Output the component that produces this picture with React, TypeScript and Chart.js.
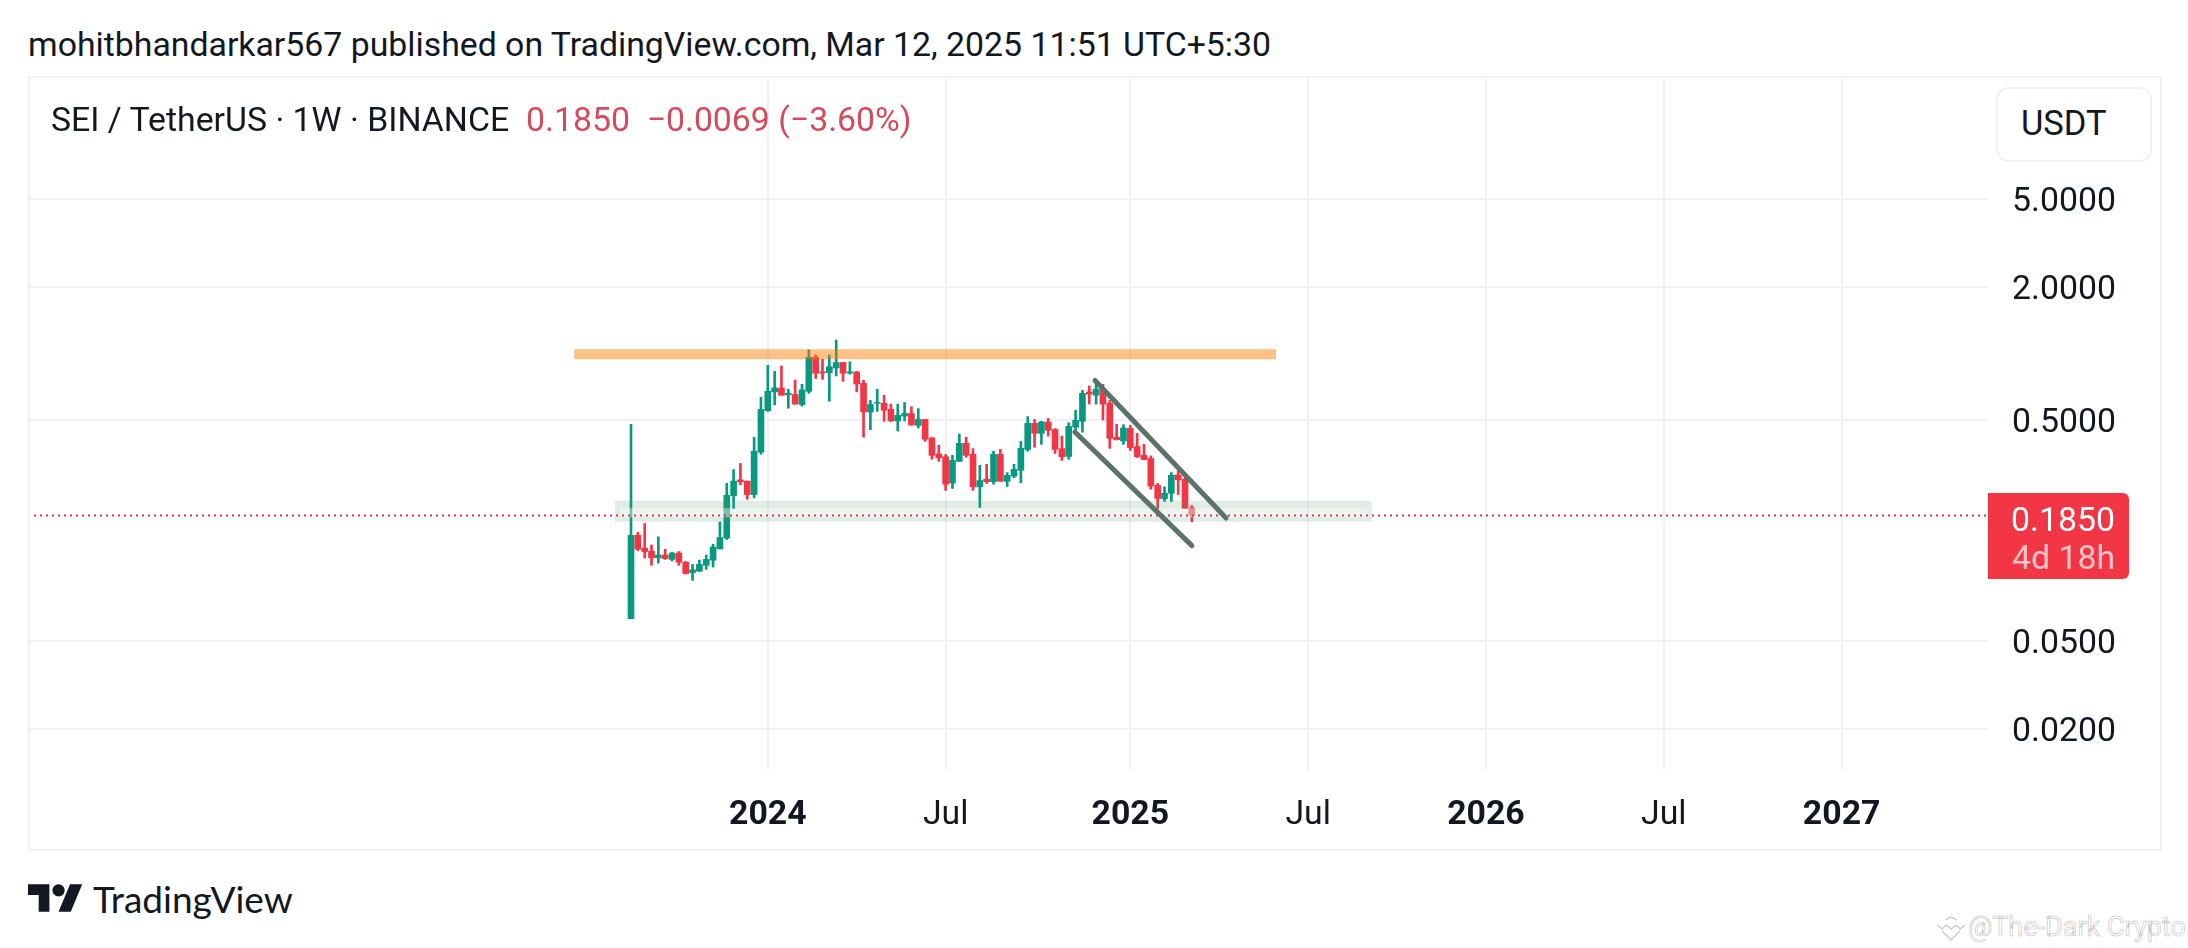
import { useEffect, useRef } from "react";
import { Chart, registerables } from "chart.js";

Chart.register(...registerables);

// weekly candles, index 0 = week of 14 Aug 2023
const opens = [.0631,.1503,.1315,.1275,.119,.1225,.117,.125,.1135,.102,.1035,.110,.116,.1305,.146,.227,.268,.2645,.230,.358,.551,.670,.697,.650,.652,.587,.674,.961,.826,.819,.860,.910,.816,.824,.733,.544,.595,.595,.559,.495,.521,.535,.473,.503,.415,.351,.341,.259,.325,.392,.350,.249,.270,.263,.350,.264,.279,.296,.368,.483,.435,.490,.453,.371,.342,.464,.493,.670,.647,.689,.595,.418,.402,.458,.379,.346,.335,.253,.220,.233,.282,.270,.200];
const closes = [.1503,.1303,.127,.119,.1225,.118,.125,.1135,.101,.105,.111,.117,.133,.147,.228,.2645,.2625,.230,.361,.559,.674,.699,.647,.660,.590,.684,.961,.814,.816,.871,.910,.814,.826,.727,.544,.587,.600,.553,.495,.525,.535,.475,.503,.409,.346,.337,.256,.328,.392,.346,.249,.266,.263,.350,.264,.281,.299,.372,.483,.435,.490,.449,.368,.341,.468,.498,.660,.655,.689,.590,.413,.407,.460,.375,.341,.331,.251,.221,.233,.281,.268,.199,.185];
const highs = [.478,.155,.170,.136,.148,.130,.126,.127,.1145,.111,.116,.1225,.137,.173,.2585,.2985,.318,.2645,.4175,.634,.884,.830,.878,.689,.758,.725,1.038,.985,.941,.985,1.15,.910,.917,.830,.756,.613,.689,.647,.590,.590,.600,.574,.563,.503,.416,.384,.349,.346,.432,.418,.371,.312,.315,.361,.368,.289,.315,.400,.518,.503,.493,.509,.457,.423,.486,.553,.681,.713,.752,.725,.613,.478,.476,.473,.435,.388,.344,.258,.249,.289,.294,.274,.205];
const lows = [.0631,.128,.1187,.110,.1125,.117,.115,.110,.1005,.094,.103,.1055,.108,.1305,.144,.1985,.2545,.219,.222,.350,.547,.585,.647,.565,.590,.578,.660,.770,.764,.608,.791,.748,.805,.670,.418,.452,.547,.493,.493,.446,.495,.473,.460,.400,.332,.325,.240,.245,.325,.339,.240,.201,.258,.256,.264,.250,.274,.260,.361,.376,.388,.423,.353,.328,.332,.435,.440,.590,.590,.500,.372,.406,.388,.364,.338,.330,.243,.184,.214,.214,.230,.198,.173];

const priceTicks = [5, 2, 0.5, 0.05, 0.02];
const timeTicks = [20, 46, 73, 99, 125, 151, 177];
const timeLabels = ["2024", "Jul", "2025", "Jul", "2026", "Jul", "2027"];
const boldLabels = ["2024", "2025", "2026", "2027"];

const lastPrice = 0.185;
const resistance = { weeks: [-8.3, 94.3], price: [0.991, 0.991] };
const supportOuter = { weeks: [-2.34, 108.3], price: [0.193, 0.193] };
const supportInner = { weeks: [-1.6, 107.6], price: [0.19, 0.19] };
const channelUpper = { weeks: [67.84, 87], price: [0.755, 0.18] };
const channelLower = { weeks: [64.9, 82], price: [0.441, 0.135] };

const WEEK_MIN = -88.16;
const WEEK_MAX = 198.25;
const GREEN = "#089981";
const RED = "#F23645";
const GRID = "#f0f1f4";
const FONT = "Roboto";

function toPoints(line: { weeks: number[]; price: number[] }) {
  return line.weeks.map((x, i) => ({ x, y: line.price[i] }));
}

function overlay(data: { x: number; y: number }[], color: string, width: number, order: number, extra = {}) {
  return {
    type: "line" as const,
    data,
    borderColor: color,
    borderWidth: width,
    pointRadius: 0,
    order,
    ...extra,
  };
}

function SeiChart() {
  const chartRef = useRef<HTMLCanvasElement>(null);

  useEffect(() => {
    if (!chartRef.current) return;
    const up = closes.map((c, i) => c >= opens[i]);
    const candleColors = up.map((u) => (u ? GREEN : RED));

    const chart = new Chart(chartRef.current, {
      type: "bar",
      data: {
        datasets: [
          overlay(toPoints(channelUpper), "#5a736b", 5, 0, { borderCapStyle: "round" }),
          overlay(toPoints(channelLower), "#5a736b", 5, 0, { borderCapStyle: "round" }),
          overlay(
            [{ x: WEEK_MIN, y: lastPrice }, { x: WEEK_MAX, y: lastPrice }],
            "#d5384c",
            2,
            1,
            { borderDash: [2, 4] }
          ),
          overlay(toPoints(resistance), "rgba(247,124,0,0.47)", 10, 2),
          overlay(toPoints(supportOuter), "rgba(85,150,105,0.18)", 21, 3),
          overlay(toPoints(supportInner), "rgba(255,255,255,0.4)", 9, 2.5),
          {
            type: "bar" as const,
            data: opens.map((o, i) => ({ x: i, y: [o, closes[i]] })),
            backgroundColor: candleColors,
            barThickness: 6,
            grouped: false,
            order: 4,
          },
          {
            type: "bar" as const,
            data: lows.map((l, i) => ({ x: i, y: [l, highs[i]] })),
            backgroundColor: candleColors,
            barThickness: 2,
            grouped: false,
            order: 5,
          },
        ],
      } as any,
      options: {
        responsive: false,
        animation: false,
        layout: { padding: 0 },
        plugins: { legend: { display: false }, tooltip: { enabled: false } },
        scales: {
          x: {
            type: "linear",
            min: WEEK_MIN,
            max: WEEK_MAX,
            offset: false,
            grid: { color: GRID, lineWidth: 2, drawTicks: false, offset: false },
            border: { display: false },
            afterBuildTicks: (scale: any) => {
              scale.ticks = timeTicks.map((value) => ({ value }));
            },
            afterFit: (scale: any) => {
              scale.height = 79;
              scale.paddingLeft = 0;
              scale.paddingRight = 0;
            },
            ticks: {
              autoSkip: false,
              maxRotation: 0,
              padding: 25,
              color: "#131722",
              font: (ctx: any) => ({
                family: FONT,
                size: 33.8,
                weight: boldLabels.includes(timeLabels[timeTicks.indexOf(ctx.tick?.value)]) ? "bold" : "normal",
              }),
              callback: (value: any) => timeLabels[timeTicks.indexOf(value)],
            },
          },
          y: {
            type: "logarithmic",
            position: "right",
            min: 0.01304,
            max: 17.82,
            bounds: "data",
            grid: { color: GRID, lineWidth: 2, drawTicks: false },
            border: { display: false },
            afterBuildTicks: (scale: any) => {
              scale.ticks = priceTicks.map((value) => ({ value }));
            },
            afterFit: (scale: any) => {
              scale.width = 173;
              scale.paddingTop = 0;
              scale.paddingBottom = 0;
            },
            ticks: {
              autoSkip: false,
              padding: 25,
              labelOffset: 4,
              color: "#131722",
              font: { family: FONT, size: 33.8 },
              callback: (value: any) => Number(value).toFixed(4),
            },
          },
        },
      },
    } as any);

    return () => {
      chart.destroy();
    };
  }, []);

  return <canvas ref={chartRef} width={2132} height={772} style={{ display: "block", position: "absolute", left: 28, top: 77 }} />;
}

const textAt = (left: number, top: number, size: number, color = "#131722"): React.CSSProperties => ({
  position: "absolute",
  left,
  top,
  fontSize: size,
  lineHeight: `${Math.round(size * 1.2)}px`,
  color,
  whiteSpace: "pre",
});

export default function App() {
  useEffect(() => {
    document.body.style.margin = "0";
  }, []);

  return (
    <div style={{ position: "relative", width: 2188, height: 948, fontFamily: FONT, background: "#fff", overflow: "hidden" }}>
      <div style={textAt(28, 24, 33.8)}>mohitbhandarkar567 published on TradingView.com, Mar 12, 2025 11:51 UTC+5:30</div>

      <SeiChart />
      <div style={{ position: "absolute", left: 28, top: 76, width: 2130, height: 771, border: "2px solid #f1f2f4", pointerEvents: "none" }} />

      <div style={textAt(51, 99, 33.8)}>SEI / TetherUS · 1W · BINANCE</div>
      <div style={textAt(526, 99, 33.8, "#d44c5c")}>0.1850  −0.0069 (−3.60%)</div>

      <div
        style={{
          position: "absolute",
          left: 1996,
          top: 87,
          width: 129,
          height: 71,
          paddingLeft: 23,
          border: "2px solid #f1f2f4",
          borderRadius: 12,
          background: "#fff",
          fontSize: 34.5,
          lineHeight: "69px",
          color: "#131722",
        }}
      >
        USDT
      </div>

      <div
        style={{
          position: "absolute",
          left: 1988,
          top: 493,
          width: 141,
          height: 86,
          background: RED,
          borderRadius: "0 6px 6px 0",
        }}
      >
        <div style={{ position: "absolute", right: 14, top: 8, fontSize: 33.8, lineHeight: "38px", color: "#fff" }}>0.1850</div>
        <div style={{ position: "absolute", right: 14, top: 46, fontSize: 33.8, lineHeight: "38px", color: "rgba(255,255,255,0.7)" }}>4d 18h</div>
      </div>

      <svg style={{ position: "absolute", left: 28, top: 878 }} width={55} height={43} viewBox="0 0 36 28">
        <path d="M14 22H7V11H0V4h14v18zM28 22h-8l7.5-18h8L28 22z" fill="#131722" />
        <circle cx={20} cy={8} r={4} fill="#131722" />
      </svg>
      <div style={{ ...textAt(93, 877, 37), fontFamily: "Lato" }}>TradingView</div>

      <svg style={{ position: "absolute", left: 1936, top: 916 }} width={30} height={26} viewBox="0 0 30 26" fill="none" stroke="#c4c4c4" strokeWidth={1.2}>
        <path d="M1 9l5 4 4-4 5 4 5-4 4 4 5-4M9 4l6-3 6 3M6 15l9 9 9-9" />
      </svg>
      <div style={{ ...textAt(1968, 911, 27, "#fff"), WebkitTextStroke: "0.6px #c0c0c0" }}>@The-Dark Crypto</div>
    </div>
  );
}
